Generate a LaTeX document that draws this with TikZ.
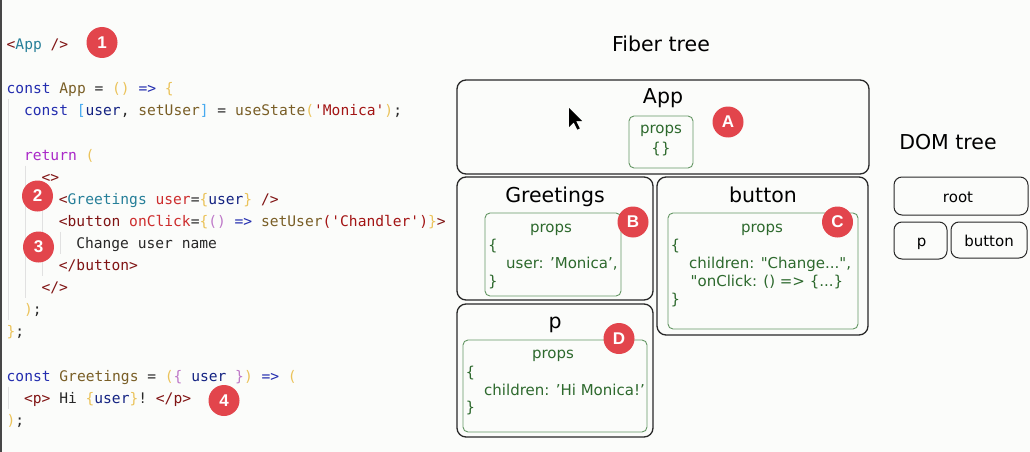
\documentclass[tikz,border=0pt]{standalone}
\usepackage{fontspec}
\setmainfont{DejaVu Sans}
\setmonofont{DejaVu Sans Mono}
\newfontfamily\badgefont{Liberation Sans}
\usepackage{xcolor}
\usepackage{tikz}

\definecolor{pagebg}{RGB}{251,252,250}
\definecolor{edgegrey}{RGB}{70,70,70}
\definecolor{guidegrey}{RGB}{225,225,225}
\definecolor{codeblue}{RGB}{35,45,175}
\definecolor{codeteal}{RGB}{38,127,153}
\definecolor{codebrown}{RGB}{121,94,38}
\definecolor{codevar}{RGB}{20,35,130}
\definecolor{codetag}{RGB}{128,20,20}
\definecolor{codeattr}{RGB}{205,45,45}
\definecolor{codestr}{RGB}{163,21,21}
\definecolor{codepurple}{RGB}{170,40,200}
\definecolor{codegold}{RGB}{235,195,90}
\definecolor{codelblue}{RGB}{70,170,240}
\definecolor{codeorchid}{RGB}{190,120,200}
\definecolor{codetext}{RGB}{40,40,40}
\definecolor{boxline}{RGB}{40,40,40}
\definecolor{propsline}{RGB}{100,150,100}
\definecolor{propsgreen}{RGB}{45,105,45}
\definecolor{badgered}{RGB}{226,69,76}

% token colours for the code listing
\newcommand{\kwd}[1]{\textcolor{codeblue}{#1}}
\newcommand{\cmpn}[1]{\textcolor{codeteal}{#1}}
\newcommand{\fnc}[1]{\textcolor{codebrown}{#1}}
\newcommand{\varn}[1]{\textcolor{codevar}{#1}}
\newcommand{\tagc}[1]{\textcolor{codetag}{#1}}
\newcommand{\attn}[1]{\textcolor{codeattr}{#1}}
\newcommand{\strc}[1]{\textcolor{codestr}{#1}}
\newcommand{\rtn}[1]{\textcolor{codepurple}{#1}}
\newcommand{\brk}[1]{\textcolor{codegold}{#1}}
\newcommand{\brb}[1]{\textcolor{codelblue}{#1}}
\newcommand{\bro}[1]{\textcolor{codeorchid}{#1}}

\begin{document}
\begin{tikzpicture}[
    x=1pt, y=-1pt,
    every node/.style={inner sep=0pt},
    code/.style={anchor=base west, font=\ttfamily\fontsize{14.6}{17}\selectfont, text=codetext},
    guide/.style={draw=guidegrey, line width=1pt},
    fiberbox/.style={draw=boxline, line width=1.3pt, rounded corners=9pt},
    propsbox/.style={draw=propsline, line width=0.9pt, rounded corners=5pt},
    dombox/.style={draw=boxline, line width=1pt, rounded corners=8pt},
    title/.style={anchor=base, font=\fontsize{20.5}{24}\selectfont},
    small/.style={anchor=base, font=\fontsize{15}{18}\selectfont},
    propstext/.style={anchor=base west, font=\fontsize{15}{18}\selectfont, text=propsgreen},
    badge/.style={circle, fill=badgered, text=white, minimum size=31pt, font=\badgefont\bfseries\fontsize{17}{20}\selectfont}
]
    \path[use as bounding box] (0,0) rectangle (1030,452);
    \fill[pagebg] (0,0) rectangle (1030,452);
    \fill[edgegrey] (0,0) rectangle (2,452);

    % indent guides
    \draw[guide] (8,99.3) -- (8,320.3);
    \draw[guide] (25.4,165.6) -- (25.4,298.2);
    \draw[guide] (42.8,187.7) -- (42.8,276.1);
    \draw[guide] (60.2,231.9) -- (60.2,254);
    \draw[guide] (8,386.6) -- (8,408.7);

    % code listing
    \node[code] (c0) at (6.5,49.5) {\tagc{<}\cmpn{App} \tagc{/>}};
    \node[code] (c2) at (6.5,93.7) {\kwd{const} \fnc{App} = \brk{()} \kwd{=>} \brk{\{}};
    \node[code] (c3) at (23.9,115.8) {\kwd{const} \brb{[}\varn{user}, \fnc{setUser}\brb{]} = \fnc{useState}\brk{(}\strc{'Monica'}\brk{)};};
    \node[code] (c5) at (23.9,160) {\rtn{return} \brk{(}};
    \node[code] (c6) at (41.3,182.1) {\tagc{<>}};
    \node[code] (c7) at (58.7,204.2) {\tagc{<}\cmpn{Greetings} \attn{user}=\brk{\{}\varn{user}\brk{\}} \tagc{/>}};
    \node[code] (c8) at (58.7,226.3) {\tagc{<button} \attn{onClick}=\brk{\{}\bro{()} \kwd{=>} \fnc{setUser}\strc{('Chandler')}\brk{\}}\tagc{>}};
    \node[code] (c9) at (76.1,248.4) {Change user name};
    \node[code] (c10) at (58.7,270.5) {\tagc{</button>}};
    \node[code] (c11) at (41.3,292.6) {\tagc{</>}};
    \node[code] (c12) at (23.9,314.7) {\brk{)};};
    \node[code] (c13) at (6.5,336.8) {\brk{\}};};
    \node[code] (c15) at (6.5,381) {\kwd{const} \fnc{Greetings} = \brk{(}\bro{\{} \varn{user} \bro{\}}\brk{)} \kwd{=>} \brk{(}};
    \node[code] (c16) at (23.9,403.1) {\tagc{<p>} Hi \brk{\{}\varn{user}\brk{\}}! \tagc{</p>}};
    \node[code] (c17) at (6.5,425.2) {\brk{)};};

    % fiber tree
    \node[title] (fiberTitle) at (661,52) {Fiber tree};
    \node[fiberbox, minimum width=412, minimum height=94] (app) at (663,127) {};
    \node[title] (appTitle) at (663,103) {App};
    \node[propsbox, minimum width=64, minimum height=52] (appProps) at (661,142) {};
    \node[small, text=propsgreen] (appPropsLabel) at (661,133) {props};
    \node[small, text=propsgreen] (appPropsBody) at (661,153) {\{\}};

    \node[fiberbox, minimum width=196, minimum height=123] (greet) at (555,238.5) {};
    \node[title] (greetTitle) at (555,202) {Greetings};
    \node[propsbox, minimum width=136, minimum height=83] (greetProps) at (553,254.5) {};
    \node[small, text=propsgreen] (greetPropsLabel) at (551,232) {props};
    \node[propstext] (greetOpen) at (488,250.5) {\{};
    \node[propstext] (greetUser) at (506,268.5) {user: ’Monica’,};
    \node[propstext] (greetClose) at (488,286) {\}};

    \node[fiberbox, minimum width=211, minimum height=158] (button) at (762.5,256) {};
    \node[title] (buttonTitle) at (763,202) {button};
    \node[propsbox, minimum width=190, minimum height=116] (buttonProps) at (763,271) {};
    \node[small, text=propsgreen] (buttonPropsLabel) at (762,232) {props};
    \node[propstext] (buttonOpen) at (670.5,250.5) {\{};
    \node[propstext] (buttonChildren) at (689,268.5) {children: \textquotedbl Change...\textquotedbl,};
    \node[propstext] (buttonClick) at (690.5,286.7) {\textquotedbl onClick: () => \{...\}};
    \node[propstext] (buttonClose) at (670.5,304) {\}};

    \node[fiberbox, minimum width=196, minimum height=133] (pbox) at (555,370.5) {};
    \node[title] (pTitle) at (555,328) {p};
    \node[propsbox, minimum width=184, minimum height=92] (pProps) at (555,386) {};
    \node[small, text=propsgreen] (pPropsLabel) at (553,358) {props};
    \node[propstext] (pOpen) at (465.5,377) {\{};
    \node[propstext] (pChildren) at (484,395) {children: ’Hi Monica!’};
    \node[propstext] (pClose) at (465.5,412) {\}};

    % DOM tree
    \node[title] (domTitle) at (948,149) {DOM tree};
    \node[dombox, minimum width=134, minimum height=38] (root) at (961,196) {};
    \node[small] (rootLabel) at (958,202.5) {root};
    \node[dombox, minimum width=53, minimum height=37] (domP) at (920.5,240.5) {};
    \node[small] (domPLabel) at (921.5,246.5) {p};
    \node[dombox, minimum width=76, minimum height=36] (domButton) at (989,240) {};
    \node[small] (domButtonLabel) at (989,246.5) {button};

    % mouse pointer
    \fill[black] (569,108) -- ++(0,19) -- ++(4.8,-4.6) -- ++(3.6,7.2) -- ++(2.4,-1.2) -- ++(-3.6,-7.2) -- ++(6,0) -- cycle;

    % badges
    \node[badge] (badgeOne) at (102,42.5) {1};
    \node[badge] (badgeTwo) at (37.5,196) {2};
    \node[badge] (badgeThree) at (38.5,247) {3};
    \node[badge] (badgeFour) at (224,400.5) {4};
    \node[badge] (badgeA) at (728,122) {A};
    \node[badge] (badgeB) at (633,222) {B};
    \node[badge] (badgeC) at (837.5,222) {C};
    \node[badge] (badgeD) at (619,338.5) {D};
\end{tikzpicture}
\end{document}
